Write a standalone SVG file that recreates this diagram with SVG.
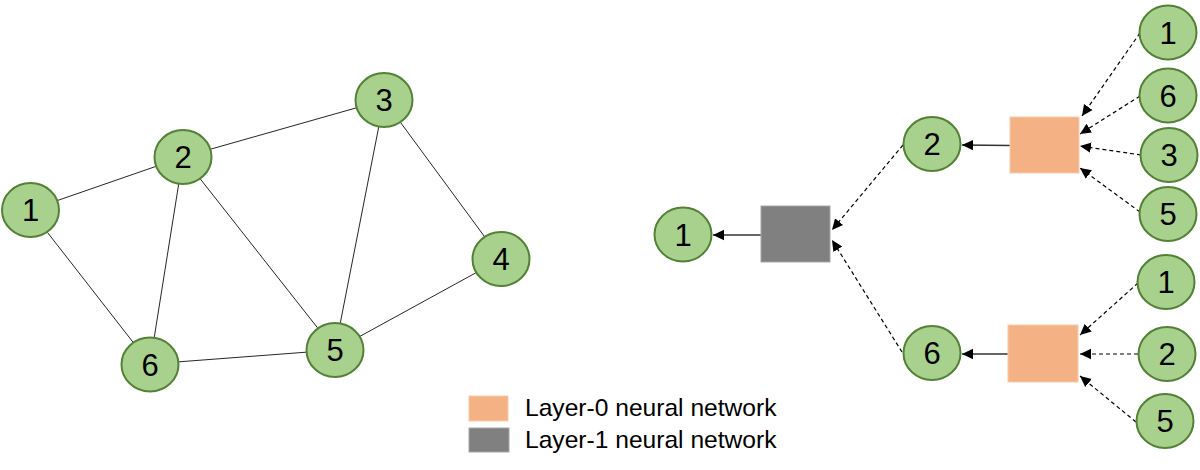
<svg xmlns="http://www.w3.org/2000/svg" width="1200" height="470" viewBox="0 0 1200 470">
<defs>
<style>
.node ellipse{fill:#a9d18e;stroke:#538135;stroke-width:2}
.node text{font-family:"Liberation Sans",Arial,sans-serif;font-size:31px;fill:#000;text-anchor:middle}
.edge{stroke:#262626;stroke-width:1;fill:none}
.solid{stroke:#333;stroke-width:1.6;fill:none}
.dash{stroke:#000;stroke-width:1.2;stroke-dasharray:4 3;fill:none}
.l0{fill:#f4b183;stroke:#f8cbad;stroke-width:1}
.l1{fill:#808080;stroke:#a6a6a6;stroke-width:1}
.legend{font-family:"Liberation Sans",Arial,sans-serif;font-size:24.6px;fill:#000}
</style>
<marker id="arr" markerUnits="userSpaceOnUse" markerWidth="12" markerHeight="12" viewBox="0 0 12 12" refX="11" refY="6" orient="auto">
<path d="M0,0.8 L11,6 L0,11.2 Z" fill="#000"/>
</marker>
</defs>
<rect width="1200" height="470" fill="#fff"/>

<g id="connectors">
<g id="graph-edges">
<line class="edge" x1="30" y1="210" x2="183" y2="157"/>
<line class="edge" x1="30" y1="210" x2="150" y2="364"/>
<line class="edge" x1="183" y1="157" x2="384" y2="100"/>
<line class="edge" x1="183" y1="157" x2="150" y2="364"/>
<line class="edge" x1="183" y1="157" x2="335" y2="350"/>
<line class="edge" x1="384" y1="100" x2="335" y2="350"/>
<line class="edge" x1="384" y1="100" x2="501" y2="259"/>
<line class="edge" x1="501" y1="259" x2="335" y2="350"/>
<line class="edge" x1="150" y1="364" x2="335" y2="350"/>
</g>
<g id="tree-arrows">
<line class="solid" x1="761" y1="235" x2="713" y2="235" marker-end="url(#arr)"/>
<line class="solid" x1="1010" y1="145.5" x2="962" y2="145" marker-end="url(#arr)"/>
<line class="solid" x1="1008" y1="354" x2="962" y2="354" marker-end="url(#arr)"/>
<line class="dash" x1="903" y1="145" x2="832" y2="230" marker-end="url(#arr)"/>
<line class="dash" x1="902" y1="352" x2="832" y2="240" marker-end="url(#arr)"/>
<line class="dash" x1="1140" y1="33" x2="1082" y2="116" marker-end="url(#arr)"/>
<line class="dash" x1="1140" y1="96" x2="1080" y2="134" marker-end="url(#arr)"/>
<line class="dash" x1="1141" y1="155" x2="1080" y2="146" marker-end="url(#arr)"/>
<line class="dash" x1="1140" y1="212" x2="1080" y2="168" marker-end="url(#arr)"/>
<line class="dash" x1="1138" y1="283" x2="1080" y2="335" marker-end="url(#arr)"/>
<line class="dash" x1="1138" y1="354" x2="1080" y2="354" marker-end="url(#arr)"/>
<line class="dash" x1="1136" y1="422" x2="1080" y2="376" marker-end="url(#arr)"/>
</g>
</g>

<g id="g-node1" class="node"><ellipse cx="30.5" cy="210" rx="28.5" ry="27"/><text x="30.5" y="221">1</text></g>
<g id="g-node2" class="node"><ellipse cx="183" cy="157" rx="28.5" ry="27"/><text x="183" y="168">2</text></g>
<g id="g-node3" class="node"><ellipse cx="384" cy="100" rx="28.5" ry="27"/><text x="384" y="111">3</text></g>
<g id="g-node4" class="node"><ellipse cx="501" cy="259" rx="28.5" ry="27"/><text x="501" y="270">4</text></g>
<g id="g-node5" class="node"><ellipse cx="335" cy="350" rx="28.5" ry="27"/><text x="335" y="361">5</text></g>
<g id="g-node6" class="node"><ellipse cx="150" cy="364.5" rx="28.5" ry="27"/><text x="150" y="375.5">6</text></g>

<g id="t-root1" class="node"><ellipse cx="683" cy="234.5" rx="28.5" ry="27"/><text x="683" y="245.5">1</text></g>
<g id="t-l1-nn"><rect class="l1" x="761" y="206" width="69" height="56"/></g>
<g id="t-mid2" class="node"><ellipse cx="932" cy="144" rx="28.5" ry="27"/><text x="932" y="155">2</text></g>
<g id="t-mid6" class="node"><ellipse cx="932" cy="353" rx="28.5" ry="27"/><text x="932" y="364">6</text></g>
<g id="t-l0-nn-top"><rect class="l0" x="1010" y="117" width="69" height="56"/></g>
<g id="t-l0-nn-bot"><rect class="l0" x="1008" y="325" width="70" height="57"/></g>
<g id="t-leaf1a" class="node"><ellipse cx="1168" cy="32.5" rx="28.5" ry="27"/><text x="1168" y="43.5">1</text></g>
<g id="t-leaf6" class="node"><ellipse cx="1168" cy="95.5" rx="28.5" ry="27"/><text x="1168" y="106.5">6</text></g>
<g id="t-leaf3" class="node"><ellipse cx="1169" cy="155" rx="28.5" ry="27"/><text x="1169" y="166">3</text></g>
<g id="t-leaf5a" class="node"><ellipse cx="1168" cy="214" rx="28.5" ry="27"/><text x="1168" y="225">5</text></g>
<g id="t-leaf1b" class="node"><ellipse cx="1166" cy="282" rx="28.5" ry="27"/><text x="1166" y="293">1</text></g>
<g id="t-leaf2" class="node"><ellipse cx="1167" cy="354" rx="28.5" ry="27"/><text x="1167" y="365">2</text></g>
<g id="t-leaf5b" class="node"><ellipse cx="1165" cy="421" rx="28.5" ry="27"/><text x="1165" y="432">5</text></g>

<g id="legend">
<rect class="l0" x="469" y="396" width="39" height="25"/>
<text class="legend" x="525" y="416">Layer-0 neural network</text>
<rect class="l1" x="469" y="428" width="40" height="24"/>
<text class="legend" x="525" y="448">Layer-1 neural network</text>
</g>
</svg>
